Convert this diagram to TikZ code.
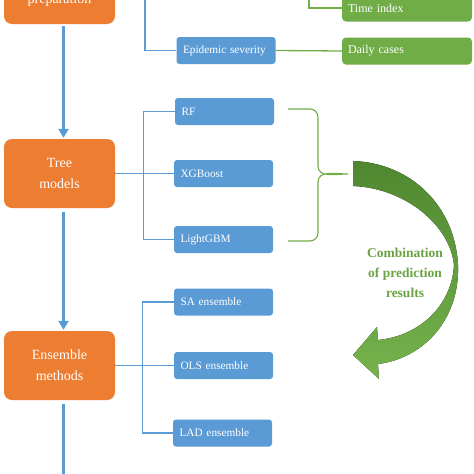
\documentclass[tikz,border=0pt]{standalone}
\usepackage{fontspec}
\setmainfont{Liberation Serif}
\usetikzlibrary{arrows.meta}
\definecolor{obox}{HTML}{ED7D31}
\definecolor{bbox}{HTML}{5B9BD5}
\definecolor{gbox}{HTML}{70AD47}
\definecolor{gdark}{HTML}{4F8730}
\definecolor{glight}{HTML}{76B34C}
\definecolor{gtext}{HTML}{6AA343}
\begin{document}
\begin{tikzpicture}[x=1pt,y=-1pt,
 orangebox/.style={fill=obox, text=white, rounded corners=8pt, minimum width=111pt, minimum height=69pt, align=center, font=\fontsize{14}{21}\selectfont, inner sep=0pt},
 bluebox/.style={fill=bbox, text=white, rounded corners=3pt, minimum width=99pt, minimum height=27pt, text width=86pt, inner xsep=6.5pt, inner ysep=0pt, align=left, font=\fontsize{11.3}{13}\selectfont},
 greenbox/.style={fill=gbox, text=white, rounded corners=4pt, minimum width=130pt, minimum height=27pt, text width=118pt, inner xsep=6pt, inner ysep=0pt, align=left, font=\fontsize{12}{14}\selectfont},
 mainarrow/.style={draw=bbox, line width=3pt, -{Triangle[width=10pt,length=9pt]}},
 mainline/.style={draw=bbox, line width=3pt},
 bline/.style={draw=bbox, line width=1.3pt},
 gline/.style={draw=gbox, line width=1.3pt},
]
\clip (0,0) rectangle (474,474);
\fill[white] (0,0) rectangle (474,474);

% orange boxes
\node[orangebox] (prep) at (59.5,-10.5) {Data\\preparation};
\node[orangebox] (tree) at (59.5,173.5) {Tree\\models};
\node[orangebox] (ens) at (59.5,365.5) {Ensemble\\methods};

% blue boxes
\node[bluebox] (epi) at (226,50.5) {Epidemic severity};
\node[bluebox] (rf) at (224.5,111.5) {RF};
\node[bluebox] (xgb) at (223.5,173.5) {XGBoost};
\node[bluebox] (lgbm) at (223.5,239.5) {LightGBM};
\node[bluebox] (sa) at (223.5,302) {SA ensemble};
\node[bluebox] (ols) at (223.5,365.5) {OLS ensemble};
\node[bluebox] (lad) at (222.5,433) {LAD ensemble};

% green boxes
\node[greenbox] (time) at (407,8) {Time index};
\node[greenbox] (daily) at (407,51) {Daily cases};

% main flow
\draw[mainarrow] ([xshift=4pt,yshift=-2pt]prep.south) -- ([xshift=4pt,yshift=1pt]tree.north);
\draw[mainarrow] ([xshift=4pt,yshift=-4pt]tree.south) -- ([xshift=4pt,yshift=1pt]ens.north);
\coordinate (bottomend) at (63.5,480);
\draw[mainline] ([xshift=4pt,yshift=-4pt]ens.south) -- (bottomend);

% branches
\coordinate (ptop) at (145,-10);
\draw[bline] (ptop) |- (epi.west);
\coordinate (gtop) at (309,-10);
\draw[gline] (gtop) |- (time.west);
\draw[gline] (epi.east) -- (daily.west);

\draw[bline] (rf.west) -- ++(-31,0) |- (lgbm.west);
\draw[bline] (tree.east) -- (xgb.west);
\draw[bline] (sa.west) -- ++(-31,0) |- (lad.west);
\draw[bline] (ens.east) -- (ols.west);

% brace
\draw[gline, line width=1.1pt] (288,109) -- (310,109) to[out=0,in=90] (318,117) -- (318,166) to[out=-90,in=180] (348,174)
  to[out=180,in=90] (318,182) -- (318,233) to[out=-90,in=0] (310,241) -- (288,241);

% curved arrow
\fill[top color=gdark, bottom color=glight]
  (353,161) .. controls (410,163) and (455,205) .. (458,265)
  .. controls (460,318) and (425,358) .. (378,364)
  -- (379,379) -- (353,355) -- (377,327) -- (378,340)
  .. controls (420,336) and (452,305) .. (454,265)
  .. controls (450,225) and (405,188) .. (353,186) -- cycle;

\node[font=\bfseries\fontsize{13.5}{20}\selectfont, text=gtext, align=center] (comb) at (405,273) {Combination\\of prediction\\results};
\end{tikzpicture}
\end{document}
